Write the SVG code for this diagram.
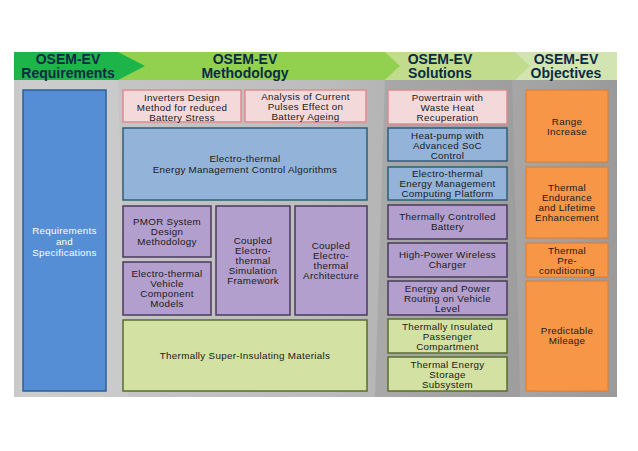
<svg xmlns="http://www.w3.org/2000/svg" width="638" height="451" viewBox="0 0 638 451">
<defs>
<linearGradient id="bg" x1="0" x2="1" y1="0" y2="0">
<stop offset="0" stop-color="#c9c9c9"/><stop offset="0.5" stop-color="#bdbdbd"/><stop offset="1" stop-color="#9a9a9a"/>
</linearGradient>
</defs>
<style>
text{font-family:"Liberation Sans",Arial,sans-serif;font-size:9.8px;text-anchor:middle;fill:#1a1a1a;letter-spacing:0.3px}
.h{font-size:14px;font-weight:bold;fill:#0b2b45;letter-spacing:0}
.pk{fill:#f4d9da;stroke:#e08a8e;stroke-width:1.5}
.bl{fill:#94b3d9;stroke:#2c5f7a;stroke-width:1.5}
.pu{fill:#b39fcd;stroke:#4a3a5c;stroke-width:1.5}
.gr{fill:#d3e2a3;stroke:#5a6e2e;stroke-width:1.5}
.or{fill:#f79646;stroke:#e07b2a;stroke-width:1}
.ow{fill:#fff}
</style>
<rect width="638" height="451" fill="#fff"/>
<rect x="14" y="80" width="603" height="317" fill="url(#bg)"/>
<path d="M118 80 L128 397 L20 397 L20 80Z" fill="#d0d0d0" opacity="0.5"/>
<path d="M385 80 L375 397 L520 397 L512 80Z" fill="#8f8f8f" opacity="0.35"/>
<g id="header">
<polygon points="14,52 617,52 617,80 14,80" fill="#d3e4b3"/>
<polygon points="385,52 515,52 530,66 515,80 385,80 400,66" fill="#c0dc8c"/>
<polygon points="118,52 385,52 400,66 385,80 118,80" fill="#92d050"/>
<polygon points="14,52 118,52 145,66 118,80 14,80" fill="#1db54a"/>
<text class="h" x="68" y="64">OSEM-EV</text><text class="h" x="68" y="78">Requirements</text>
<text class="h" x="245" y="64">OSEM-EV</text><text class="h" x="245" y="78">Methodology</text>
<text class="h" x="440" y="64">OSEM-EV</text><text class="h" x="440" y="78">Solutions</text>
<text class="h" x="566" y="64">OSEM-EV</text><text class="h" x="566" y="78">Objectives</text>
</g>
<g id="req"><rect x="23" y="90" width="83" height="301" fill="#558ed5" stroke="#2c5f9a" stroke-width="1.5"/>
<text class="ow" x="64.5" y="234">Requirements</text><text class="ow" x="64.5" y="245">and</text><text class="ow" x="64.5" y="256">Specifications</text></g>
<g id="inv"><rect class="pk" x="123" y="90" width="118" height="32"/><text x="182" y="101">Inverters Design</text><text x="182" y="111">Method for reduced</text><text x="182" y="121">Battery  Stress</text></g>
<g id="pulse"><rect class="pk" x="245" y="90" width="121" height="32"/><text x="305.5" y="100">Analysis of Current</text><text x="305.5" y="110">Pulses Effect on</text><text x="305.5" y="120">Battery Ageing</text></g>
<g id="ems"><rect class="bl" x="123" y="128" width="244" height="72"/><text x="245" y="162">Electro-thermal</text><text x="245" y="173">Energy Management Control Algorithms</text></g>
<g id="pmor"><rect class="pu" x="123" y="206" width="88" height="51"/><text x="167" y="225">PMOR System</text><text x="167" y="235">Design</text><text x="167" y="245">Methodology</text></g>
<g id="evcm"><rect class="pu" x="123" y="262" width="88" height="53"/><text x="167" y="277">Electro-thermal</text><text x="167" y="287">Vehicle</text><text x="167" y="297">Component</text><text x="167" y="307">Models</text></g>
<g id="csim"><rect class="pu" x="216" y="206" width="74" height="109"/><text x="253" y="244">Coupled</text><text x="253" y="254">Electro-</text><text x="253" y="264">thermal</text><text x="253" y="274">Simulation</text><text x="253" y="284">Framework</text></g>
<g id="carch"><rect class="pu" x="295" y="206" width="72" height="109"/><text x="331" y="249">Coupled</text><text x="331" y="259">Electro-</text><text x="331" y="269">thermal</text><text x="331" y="279">Architecture</text></g>
<g id="mat"><rect class="gr" x="123" y="320" width="244" height="71"/><text x="245" y="359">Thermally Super-Insulating Materials</text></g>
<g id="s1"><rect class="pk" x="388" y="90" width="119" height="34"/><text x="447.5" y="101">Powertrain with</text><text x="447.5" y="111">Waste Heat</text><text x="447.5" y="121">Recuperation</text></g>
<g id="s2"><rect class="bl" x="388" y="128" width="119" height="33"/><text x="447.5" y="139">Heat-pump with</text><text x="447.5" y="149">Advanced SoC</text><text x="447.5" y="159">Control</text></g>
<g id="s3"><rect class="bl" x="388" y="167" width="119" height="33"/><text x="447.5" y="177">Electro-thermal</text><text x="447.5" y="187">Energy Management</text><text x="447.5" y="197">Computing Platform</text></g>
<g id="s4"><rect class="pu" x="388" y="205" width="119" height="34"/><text x="447.5" y="220">Thermally Controlled</text><text x="447.5" y="230">Battery</text></g>
<g id="s5"><rect class="pu" x="388" y="243" width="119" height="34"/><text x="447.5" y="258">High-Power Wireless</text><text x="447.5" y="268">Charger</text></g>
<g id="s6"><rect class="pu" x="388" y="281" width="119" height="34"/><text x="447.5" y="292">Energy and Power</text><text x="447.5" y="302">Routing on Vehicle</text><text x="447.5" y="312">Level</text></g>
<g id="s7"><rect class="gr" x="388" y="319" width="119" height="34"/><text x="447.5" y="330">Thermally Insulated</text><text x="447.5" y="340">Passenger</text><text x="447.5" y="350">Compartment</text></g>
<g id="s8"><rect class="gr" x="388" y="357" width="119" height="34"/><text x="447.5" y="368">Thermal Energy</text><text x="447.5" y="378">Storage</text><text x="447.5" y="388">Subsystem</text></g>
<g id="o1"><rect class="or" x="526" y="90" width="82" height="72"/><text x="567" y="125">Range</text><text x="567" y="135">Increase</text></g>
<g id="o2"><rect class="or" x="526" y="167" width="82" height="71"/><text x="567" y="191">Thermal</text><text x="567" y="201">Endurance</text><text x="567" y="211">and Lifetime</text><text x="567" y="221">Enhancement</text></g>
<g id="o3"><rect class="or" x="526" y="243" width="82" height="34"/><text x="567" y="254">Thermal</text><text x="567" y="264">Pre-</text><text x="567" y="274">conditioning</text></g>
<g id="o4"><rect class="or" x="526" y="281" width="82" height="110"/><text x="567" y="334">Predictable</text><text x="567" y="344">Mileage</text></g>
<g id="connectors"></g>
</svg>
